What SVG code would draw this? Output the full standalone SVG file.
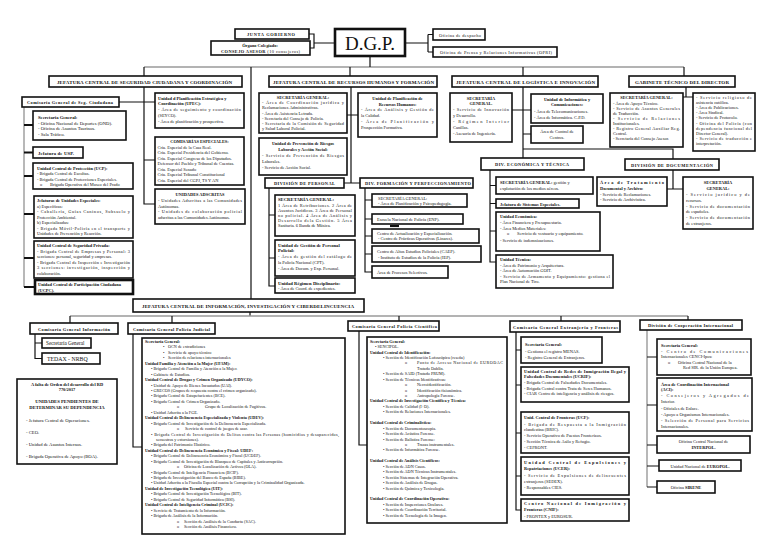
<svg xmlns="http://www.w3.org/2000/svg" width="768" height="543" viewBox="0 0 768 543">
<style>
text{font-family:"Liberation Serif","Times New Roman",serif;font-size:4.4px;fill:#111}
.b{font-weight:bold}
.c{text-anchor:middle}
.s{font-size:4.2px}
.m{font-size:4.7px}
.h{font-weight:bold;font-size:5px}
rect.n{fill:#fff;stroke:#111;stroke-width:1.6}
rect.tk{fill:#fff;stroke:#111;stroke-width:2.6}
.ln{fill:none;stroke:#111;stroke-width:1.2}
.gr{fill:none;stroke:#9a9a9a;stroke-width:1.4}
</style>
<rect x="0" y="0" width="768" height="543" fill="#fff"/>
<g id="connectors">
<path class="gr" d="M144,67H684"/>
<path class="ln" d="M370,56V67 M144,67V76 M350,67V76 M523,67V76 M684,67V76 M251,67V299"/>
<path class="ln" d="M309,34H314V48H310 M314,43H335"/>
<path class="ln" d="M405,43H428 M428,34.5V52 M428,34.5H433 M428,52H433"/>
<path class="ln" d="M144,87V204H155 M119,102H155 M144,160H155"/>
<path class="gr" d="M24,107V287"/>
<path class="ln" style="stroke-width:1.8" d="M24,125H33 M24,152.5H33 M24,176H33 M24,214H34 M24,258H34 M24,287H35"/>
<path class="ln" d="M351,87V183 M347,115H358 M344,183H360"/>
<path class="ln" d="M269,188V286H275 M269,215H275 M269,258H275"/>
<path class="ln" d="M365,188V272H372 M365,200H372 M365,219H372 M365,236H372 M365,254H372"/>
<path class="ln" style="stroke-width:2.2" d="M390,226H399"/>
<path class="ln" d="M523,87V158 M512,110H531 M523,134H531 M523,149H673V159"/>
<path class="ln" d="M490,170V262H496 M490,185.5H496 M490,203.5H496 M490,231H496"/>
<path class="ln" d="M673,170V189 M667,189H683"/>
<path class="ln" d="M686,87V97 M683,97H693"/>
<path class="ln" d="M250,312V316"/>
<path class="gr" d="M70,316H688"/>
<path class="ln" d="M70,316V323 M172,316V323 M399,316V321 M561,316V321 M688,316V320"/>
<path class="ln" d="M35,334V358.5H42 M35,343H42"/>
<path class="ln" d="M133,334V447H142"/>
<path class="ln" d="M359,331V445H367"/>
<path class="ln" d="M516,332V510H521 M516,350H521 M516,385H521 M516,433H521 M516,476H521"/>
<path class="gr" d="M647,330V487"/>
<path class="ln" d="M647,357H657 M647,405H657 M647,445H657 M647,466H659 M647,487H657"/>
</g>

<g id="junta"><rect class="n" x="235" y="29" width="74" height="10"/><text class="b" x="247" y="36" textLength="48">JUNTA GOBIERNO</text></g>
<g id="consejo"><rect class="n" x="211" y="41" width="99" height="14"/><text class="b c" x="260" y="47">Órgano Colegiado:</text><text x="221" y="53" textLength="79"><tspan class="b">CONSEJO ASESOR </tspan>(10 consejeros)</text></g>
<g id="dgp"><rect class="tk" x="335" y="29" width="70" height="27"/><text class="c" x="370" y="49.5" style="font-size:19px">D.G.P.</text></g>
<g id="despacho"><rect class="n" x="433" y="29" width="52" height="11"/><text x="439" y="36.5" textLength="42">Oficina de despacho</text></g>
<g id="opri"><rect class="n" x="433" y="47" width="124" height="10"/><text x="440" y="54" textLength="112">Oficina de Prensa y Relaciones Informativas (OPRI)</text></g>

<g id="jef-seg"><rect class="n" x="49" y="76" width="193" height="11"/><text class="h" x="57" y="83.5" textLength="175">JEFATURA CENTRAL DE SEGURIDAD CIUDADANA Y COORDINACIÓN</text></g>
<g id="com-seg"><rect class="n" x="22" y="97" width="97" height="10"/><text class="b" x="27" y="104" textLength="86">Comisaría General de Seg. Ciudadana</text></g>
<g id="sec-seg"><rect class="n" x="33" y="111" width="93" height="29"/>
<text class="b m" x="38" y="119">Secretaría General:</text>
<text class="m" x="38" y="124.5">- Oficina Nacional de Deportes (OND).</text>
<text class="m" x="38" y="130">- Oficina de Asuntos Taurinos.</text>
<text class="m" x="38" y="135.5">- Sala Tráfico.</text></g>
<g id="usp"><rect class="n" x="33" y="147" width="50" height="11"/><text class="b m" x="38" y="154.5" textLength="36">Jefatura de USP.</text></g>
<g id="ucp"><rect class="n" x="33" y="163" width="100" height="26"/>
<text class="b" x="37" y="169.5">Unidad Central de Protección (UCP):</text>
<text x="37" y="175">- Brigada Central de Escoltas.</text>
<text x="37" y="180.5">- Brigada Central de Protecciones Especiales.</text>
<text x="40" y="186">o</text><text x="50" y="186">Brigada Operativa del Museo del Prado</text></g>
<g id="jue"><rect class="n" x="34" y="196" width="99" height="42"/>
<text class="b" x="37" y="202">Jefaturas de Unidades Especiales:</text>
<text x="37" y="207.5">a) Específicas:</text>
<text x="37" y="213" textLength="93">- Caballería, Guías Caninos, Subsuelo y</text>
<text x="37" y="218.5">Protección Ambiental.</text>
<text x="37" y="224">b) Especializadas:</text>
<text x="37" y="229.5" textLength="93">- Brigada Móvil-Policía en el transporte y</text>
<text x="37" y="235">Unidades de Prevención y Reacción.</text></g>
<g id="usprivada"><rect class="n" x="34" y="241" width="99" height="37"/>
<text class="b" x="37" y="247">Unidad Central de Seguridad Privada:</text>
<text x="37" y="252.5" textLength="93">- Brigada Central de Empresas y Personal: 3</text>
<text x="37" y="258">secciones: personal, seguridad y empresas.</text>
<text x="37" y="263.5" textLength="93">- Brigada Central de Inspección e Investigación</text>
<text x="37" y="269" textLength="93">3 secciones: investigación, inspección y</text>
<text x="37" y="274.5">colaboración.</text></g>
<g id="ucpc"><rect class="tk" x="35" y="280" width="98" height="14"/>
<text class="b" x="38" y="286">Unidad Central de Participación Ciudadana</text>
<text class="b" x="38" y="291.5">(UCPC).</text></g>
<g id="upec"><rect class="n" x="155" y="93" width="89" height="35"/>
<text class="b" x="158" y="99.5">Unidad d Planificación Estratégica y</text>
<text class="b" x="158" y="105">Coordinación (UPEC):</text>
<text x="158" y="111" textLength="83">- Área de seguimiento y coordinación</text>
<text x="158" y="116.5">(SEYCO).</text>
<text x="158" y="123">- Área de planificación y prospectiva.</text></g>
<g id="cesp"><rect class="n" x="155" y="137" width="89" height="48"/>
<text class="b c" x="199.5" y="143">COMISARÍAS ESPECIALES:</text>
<text x="157.5" y="148.5">Cria. Especial de la Casa Real.</text>
<text x="157.5" y="154">Cria. Especial Presidencia del Gobierno.</text>
<text x="157.5" y="159.5">Cria. Especial Congreso de los Diputados.</text>
<text x="157.5" y="165">Defensor del Pueblo y Tribunal de Cuentas.</text>
<text x="157.5" y="170.5">Cria. Especial Senado</text>
<text x="157.5" y="176">Cria. Especial Tribunal Constitucional</text>
<text x="157.5" y="181.5">Cria. Especial del CGPJ, TS Y AN</text></g>
<g id="uads"><rect class="n" x="155" y="189" width="90" height="35"/>
<text class="b c" x="200" y="196">UNIDADES ADSCRITAS</text>
<text x="158" y="202" textLength="84">- Unidades Adscritas a las Comunidades</text>
<text x="158" y="207.5">Autónomas.</text>
<text x="158" y="213" textLength="84">- Unidades de colaboración policial</text>
<text x="158" y="218.5">adscritas a las Comunidades Autónomas.</text></g>

<g id="jef-rh"><rect class="n" x="269" y="76" width="168" height="11"/><text class="h" x="273" y="83.5" textLength="161">JEFATURA CENTRAL DE RECURSOS HUMANOS Y FORMACIÓN</text></g>
<g id="sec-rh"><rect class="n" x="259" y="93" width="88" height="40"/>
<text class="b c" x="303" y="99">SECRETARÍA GENERAL:</text>
<text x="262" y="104.2" textLength="82">- Área de Coordinación jurídica y</text>
<text x="262" y="109.4">Reclamaciones Administrativas.</text>
<text x="262" y="114.6">- Área de Asistencia Letrada.</text>
<text x="262" y="119.8">- Secretaría del Consejo de Policía.</text>
<text x="262" y="125" textLength="82">- Secretaría de la Comisión de Seguridad</text>
<text x="262" y="130.2">y Salud Laboral Policial.</text></g>
<g id="uprh"><rect class="n" x="358" y="93" width="79" height="44"/>
<text class="b c" x="397.5" y="100">Unidad de Planificación de</text>
<text class="b c" x="397.5" y="105.5">Recursos Humanos:</text>
<text x="361" y="111" textLength="73">- Área de Análisis y Gestión de</text>
<text x="361" y="116.5">la Calidad.</text>
<text x="361" y="123" textLength="73">- Área de Planificación y</text>
<text x="361" y="128.5">Prospección Formativa.</text></g>
<g id="prl"><rect class="n" x="259" y="138" width="88" height="37"/>
<text class="b c" x="303" y="145">Unidad de Prevención de Riesgos</text>
<text class="b c" x="303" y="150.5">Laborales y Acción Social:</text>
<text x="262" y="157" textLength="82">- Servicio de Prevención de Riesgos</text>
<text x="262" y="162.5">Laborales.</text>
<text x="262" y="169">- Servicio de Acción Social.</text></g>
<g id="div-per"><rect class="n" x="265" y="178" width="79" height="10"/><text class="b" x="274" y="185" textLength="61">DIVISIÓN DE PERSONAL</text></g>
<g id="div-for"><rect class="n" x="360" y="178" width="113" height="10"/><text class="b" x="365" y="185" textLength="106">DIV. FORMACIÓN Y PERFECCIONAMIENTO</text></g>
<g id="sec-per"><rect class="n" x="275" y="195" width="80" height="41"/>
<text class="b m" x="278" y="201">SECRETARÍA GENERAL:</text>
<text x="278" y="206.5" textLength="74">1 Área de Retribuciones. 2 Área de</text>
<text x="278" y="211.7" textLength="74">Asuntos Jurídicos. 3 Área de Personal</text>
<text x="278" y="216.9" textLength="74">no policial. 4 Área de Análisis y</text>
<text x="278" y="222.1" textLength="74">Desarrollo dela Gestión. 5 Área</text>
<text x="278" y="227.3">Sanitaria. 6 Banda de Música.</text></g>
<g id="ugp"><rect class="n" x="275" y="240" width="80" height="36"/>
<text class="b m" x="278" y="246.5">Unidad de Gestión de Personal</text>
<text class="b m" x="278" y="252">Policial:</text>
<text x="278" y="258" textLength="74">- Área de gestión del catálogo de</text>
<text x="278" y="263.5">la Policía Nacional (CPT).</text>
<text x="278" y="269.5">- Área de Docum. y Exp. Personal.</text></g>
<g id="urd"><rect class="n" x="275" y="278" width="80" height="15"/>
<text class="b m" x="278" y="284.5">Unidad Régimen Disciplinario:</text>
<text x="278" y="290">- Área de Coord. de expedientes.</text></g>
<g id="sec-for"><rect class="n" x="372" y="194" width="95" height="13"/>
<text x="378" y="199.5">SECRETARÍA GENERAL:</text>
<text x="378" y="205">- Área de Planificación y Psicopedagogía.</text></g>
<g id="enp"><rect class="n" x="372" y="214" width="91" height="10"/><text x="377" y="221">Escuela Nacional de Policía (ENP).</text></g>
<g id="cae"><rect class="n" x="372" y="229" width="107" height="14"/>
<text x="377" y="234.5">Centro de Actualización y Especialización.</text>
<text x="378" y="240">- Centro de Prácticas Operativas (Linares).</text></g>
<g id="caep"><rect class="n" x="372" y="246" width="109" height="16"/>
<text x="377" y="252.5">Centro de Altos Estudios Policiales (CAEP).</text>
<text x="378" y="258.5">- Instituto de Estudios de la Policía (IEP).</text></g>
<g id="aps"><rect class="n" x="372" y="266" width="76" height="12"/><text x="377" y="273.5">Área de Procesos Selectivos.</text></g>

<g id="jef-log"><rect class="n" x="452" y="76" width="146" height="11"/><text class="h" x="456" y="83.5" textLength="139">JEFATURA CENTRAL DE LOGÍSTICA E INNOVACIÓN</text></g>
<g id="sec-log"><rect class="n" x="450" y="93" width="62" height="49"/>
<text class="b c" x="481" y="99.5">SECRETARÍA</text>
<text class="b c" x="481" y="105">GENERAL.</text>
<text x="453" y="111" textLength="56">- Servicio de Innovación</text>
<text x="453" y="116.5">y Desarrollo.</text>
<text x="453" y="123" textLength="56">- Régimen Interior</text>
<text x="453" y="128.5">Canillas.</text>
<text x="453" y="135">- Asesoría de Ingeniería.</text></g>
<g id="uic"><rect class="n" x="531" y="94" width="72" height="29"/>
<text class="b c" x="567" y="100.5">Unidad de Informática y</text>
<text class="b c" x="567" y="106">Comunicaciones:</text>
<text x="534" y="112.5">- Área de Telecomunicaciones.</text>
<text x="534" y="118.5">- Área de Informática. C.P.D.</text></g>
<g id="acc"><rect class="n" x="531" y="126" width="52" height="17"/>
<text class="c" x="557" y="132.5">Área de Control de</text>
<text class="c" x="557" y="138.5">Centros.</text></g>
<g id="div-ec"><rect class="n" x="481" y="158" width="103" height="12"/><text class="b" x="495" y="166" textLength="74">DIV. ECONÓMICA Y TÉCNICA</text></g>
<g id="sg-aer"><rect class="n" x="496" y="177" width="97" height="17"/>
<text x="500" y="184"><tspan class="b">SECRETARÍA GENERAL:</tspan> gestión y</text>
<text x="500" y="190">explotación de los medios aéreos.</text></g>
<g id="jse"><rect class="n" x="496" y="199" width="83" height="9"/><text class="b" x="500" y="205.5">Jefatura de Sistemas Especiales.</text></g>
<g id="uec"><rect class="n" x="496" y="212" width="104" height="39"/>
<text class="b" x="500" y="218">Unidad Económica:</text>
<text x="500" y="224">- Área Financiera y Presupuestaria.</text>
<text x="500" y="229.5">- Área Medios Materiales:</text>
<text x="507" y="235">o</text><text x="517" y="235">Servicio de vestuario y equipamiento.</text>
<text x="500" y="242">- Servicio de indemnizaciones.</text></g>
<g id="utec"><rect class="n" x="496" y="255" width="117" height="33"/>
<text class="b" x="500" y="261">Unidad Técnica:</text>
<text x="500" y="266.5">- Área de Patrimonio y Arquitectura.</text>
<text x="500" y="272">- Área de Automoción GOIT.</text>
<text x="500" y="277.5" textLength="110">- Servicio de Armamento y Equipamiento: gestiona el</text>
<text x="500" y="283">Plan Nacional de Tiro.</text></g>
<g id="div-doc"><rect class="n" x="625" y="159" width="94" height="11"/><text class="b" x="631" y="166.5" textLength="82">DIVISIÓN DE DOCUMENTACIÓN</text></g>
<g id="atd"><rect class="n" x="597" y="177" width="70" height="29"/>
<text class="b" x="600" y="184" textLength="64">Área de Tratamiento</text>
<text class="b" x="600" y="189.5">Documental y Archivo:</text>
<text x="600" y="195.5">- Servicio de Reclamaciones.</text>
<text x="600" y="201">- Servicio de Archivística.</text></g>
<g id="sg-doc"><rect class="n" x="683" y="177" width="70" height="52"/>
<text class="b c" x="718" y="184">SECRETARÍA</text>
<text class="b c" x="718" y="189.5">GENERAL:</text>
<text x="686" y="196" textLength="64">- Servicio jurídico y de</text>
<text x="686" y="201.5">recursos.</text>
<text x="686" y="207.5" textLength="64">- Servicio de documentación</text>
<text x="686" y="213">de españoles.</text>
<text x="686" y="219" textLength="64">- Servicio de documentación</text>
<text x="686" y="224.5">de extranjeros.</text></g>
<g id="gab"><rect class="n" x="629" y="76" width="106" height="11"/><text class="h" x="635" y="83.5" textLength="94">GABINETE TÉCNICO DEL DIRECTOR</text></g>
<g id="sg-gab"><rect class="n" x="610" y="93" width="73" height="54"/>
<text class="b c" x="646.5" y="99">SECRETARÍA GENERAL:</text>
<text x="613" y="104.5">- Área de Apoyo Técnico.</text>
<text x="613" y="109.5" textLength="67">- Servicio de Asuntos Generales</text>
<text x="613" y="114.5">de Traducción.</text>
<text x="613" y="119.5" textLength="67">- Servicio de Relaciones</text>
<text x="613" y="124.5">Institucionales.</text>
<text x="613" y="130" textLength="67">- Registro General Auxiliar Reg.</text>
<text x="613" y="135">Central.</text>
<text x="613" y="140">- Secretaría del Consejo Asesor.</text></g>
<g id="gab-r"><rect class="n" x="693" y="93" width="62" height="58"/>
<text x="696" y="99" textLength="56">- Servicio religioso de</text>
<text x="696" y="104">asistencia católica.</text>
<text x="696" y="109">- Área de Publicaciones.</text>
<text x="696" y="114">- Área Sindical.</text>
<text x="696" y="119">- Servicio de Protocolo.</text>
<text x="696" y="125" textLength="56">- Oficina del Policía (con</text>
<text x="696" y="130" textLength="56">dependencia funcional del</text>
<text x="696" y="135">Director General).</text>
<text x="696" y="140" textLength="56">- Servicio de traducción e</text>
<text x="696" y="145">interpretación.</text></g>

<g id="jef-info"><rect class="n" x="133" y="299" width="231" height="13"/><text class="h" x="142" y="307.5" textLength="212">JEFATURA CENTRAL DE INFORMACIÓN, INVESTIGACIÓN Y CIBERDELINCUENCIA</text></g>
<g id="cg-inf"><rect class="n" x="30" y="323" width="88" height="11"/><text class="b" x="38" y="330.5" textLength="72">Comisaría General Información</text></g>
<g id="sg-inf"><rect class="n" x="42" y="338" width="49" height="10"/><text x="46" y="345" style="font-size:5.2px">Secretaría General</text></g>
<g id="tedax"><rect class="n" x="42" y="353" width="58" height="11"/><text x="47" y="361" style="font-size:5.8px">TEDAX - NRBQ</text></g>
<g id="falta"><rect class="n" x="17" y="379" width="100" height="85"/>
<text class="b c" x="67" y="386">A falta de Orden del desarrollo del RD</text>
<text class="b c" x="67" y="390.5">770/2017</text>
<text class="b c m" x="67" y="402.5">UNIDADES PENDIENTES DE</text>
<text class="b c m" x="67" y="408.5">DETERMINAR SU DEPENDENCIA</text>
<text class="m" x="26" y="421.5">- Jefatura Central de Operaciones.</text>
<text class="m" x="26" y="433.5">- CEO.</text>
<text class="m" x="26" y="445.5">- Unidad de Asuntos Internos.</text>
<text class="m" x="26" y="457.5">- Brigada Operativa de Apoyo (BOA).</text></g>
<g id="cg-pj"><rect class="n" x="128" y="323" width="87" height="11"/><text class="b" x="133" y="330.5" textLength="77">Comisaría General Policía Judicial</text></g>
<g id="pj"><rect class="n" x="142" y="338" width="203" height="196"/>
<text class="b s" x="145" y="343">Secretaría General:</text>
<text class="s" x="163" y="348.4">•</text><text class="s" x="168" y="348.4">OCN de extradiciones</text>
<text class="s" x="163" y="353.9">•</text><text class="s" x="168" y="353.9">Servicio de apoyo técnico</text>
<text class="s" x="163" y="359.3">•</text><text class="s" x="168" y="359.3">Sección de relaciones internacionales</text>
<text class="b s" x="145" y="364.8">Unidad Familia y Atención a la Mujer (UFAM):</text>
<text class="s" x="151" y="370.2">• Brigada Central de Familia y Atención a la Mujer.</text>
<text class="s" x="151" y="375.6">• Gabinete de Estudios.</text>
<text class="b s" x="145" y="381.1">Unidad Central de Drogas y Crimen Organizado (UDYCO):</text>
<text class="s" x="151" y="386.5">• Unidad de Apoyo de Bienes Incautados (UAI).</text>
<text class="s" x="151" y="392">• GRECOS (Grupos de respuesta contra el crimen organizado).</text>
<text class="s" x="151" y="397.4">• Brigada Central de Estupefacientes (BCE).</text>
<text class="s" x="151" y="402.8">• Brigada Central de Crimen Organizado.</text>
<text class="s" x="177" y="408.3">o</text><text class="s" x="205" y="408.3">Grupo de Localización de Fugitivos.</text>
<text class="s" x="151" y="413.7">• Unidad Adscrita a la FGE.</text>
<text class="b s" x="145" y="419.2">Unidad Central de Delincuencia Especializada y Violenta (UDEV):</text>
<text class="s" x="151" y="424.6">• Brigada Central de Investigación de la Delincuencia Especializada.</text>
<text class="s" x="177" y="430">o</text><text class="s" x="185" y="430">Servicio de control de juegos de azar.</text>
<text class="s" x="151" y="435.5" textLength="188">• Brigada Central de Investigación de Delitos contra las Personas (homicidios y desaparecidos,</text>
<text class="s" x="156" y="440.9">secuestros y extorsiones).</text>
<text class="s" x="151" y="446.4">• Brigada del Patrimonio Histórico.</text>
<text class="b s" x="145" y="451.8">Unidad Central de Delincuencia Económica y Fiscal: UDEF:</text>
<text class="s" x="151" y="457.2">• Brigada Central de Delincuencia Económica y Fiscal (UCDEF).</text>
<text class="s" x="151" y="462.7">• Brigada Central de Investigación de Blanqueo de Capitales y Anticorrupción.</text>
<text class="s" x="177" y="468.1">o</text><text class="s" x="184" y="468.1">Oficina de Localización de Activos (OLA).</text>
<text class="s" x="151" y="473.6">• Brigada Central de Inteligencia Financiera (BCIF).</text>
<text class="s" x="151" y="479">• Brigada de Investigación del Banco de España (BIBE).</text>
<text class="s" x="151" y="484.4">• Unidad Adscrita a la Fiscalía Especial contra la Corrupción y la Criminalidad Organizada.</text>
<text class="b s" x="145" y="489.9">Unidad de Investigación Tecnológica (UIT):</text>
<text class="s" x="151" y="495.3">• Brigada Central de Investigación Tecnológica (BIT).</text>
<text class="s" x="151" y="500.8">• Brigada Central de Seguridad Informática (BSI).</text>
<text class="b s" x="145" y="506.2">Unidad Central de Inteligencia Criminal (UCIC):</text>
<text class="s" x="151" y="511.6">• Servicio de Tratamiento de la Información.</text>
<text class="s" x="151" y="517.1">• Brigada de Análisis de la Información.</text>
<text class="s" x="177" y="522.5">o</text><text class="s" x="184" y="522.5">Sección de Análisis de la Conducta (SAC).</text>
<text class="s" x="177" y="528">o</text><text class="s" x="184" y="528">Sección de Análisis Financiero.</text>
</g>
<g id="cg-pc"><rect class="n" x="348" y="321" width="91" height="10"/><text class="b" x="352" y="328" textLength="85">Comisaría General Policía Científica</text></g>
<g id="pc"><rect class="n" x="367" y="337" width="140" height="186"/>
<text class="b s" x="370" y="342.6">Secretaría General:</text>
<text class="s" x="375" y="348">• SENCIPOL.</text>
<text class="b s" x="370" y="353.5">Unidad Central de Identificación:</text>
<text class="s" x="383" y="358.9">• Sección de Identificación Lofoscópica (reseña)</text>
<text class="s" x="405" y="364.4">o</text><text class="s" x="417" y="364.4" textLength="86">Punto de Acceso Nacional de EURODAC</text>
<text class="s" x="417" y="369.8">Tratado Dublín.</text>
<text class="s" x="383" y="375.2">• Sección de SAID (Tratado PRUM).</text>
<text class="s" x="383" y="380.7">• Sección de Técnicas Identificativas:</text>
<text class="s" x="405" y="386.1">o</text><text class="s" x="417" y="386.1">Necroidentificación.</text>
<text class="s" x="405" y="391.6">o</text><text class="s" x="417" y="391.6">Identificación fisionómica.</text>
<text class="s" x="405" y="397">o</text><text class="s" x="417" y="397">Antropología Forense.</text>
<text class="b s" x="370" y="402.4">Unidad Central de Investigación Científica y Técnica:</text>
<text class="s" x="383" y="407.9">• Sección de Calidad (I+D).</text>
<text class="s" x="383" y="413.3">• Sección de Relaciones Internacionales.</text>
<text class="b s" x="370" y="424.2">Unidad Central de Criminalística:</text>
<text class="s" x="383" y="429.6">• Sección de Documentoscopia.</text>
<text class="s" x="383" y="435.1">• Sección de Acústica Forense.</text>
<text class="s" x="383" y="440.5">• Sección de Balística Forense:</text>
<text class="s" x="405" y="445.9">o</text><text class="s" x="417" y="445.9">Trazas instrumentales.</text>
<text class="s" x="383" y="451.4">• Sección de Informática Forense.</text>
<text class="b s" x="370" y="462.3">Unidad Central de Análisis Científicos:</text>
<text class="s" x="383" y="467.7">• Sección de ADN Casos.</text>
<text class="s" x="383" y="473.1">• Sección de ADN Técnicas Instrumentales.</text>
<text class="s" x="383" y="478.6">• Sección Sistemas de Integración Operativa.</text>
<text class="s" x="383" y="484">• Sección de Análisis de Drogas.</text>
<text class="s" x="383" y="489.5">• Sección de Química y Toxicología.</text>
<text class="b s" x="370" y="500.4">Unidad Central de Coordinación Operativa:</text>
<text class="s" x="383" y="505.8">• Sección de Inspecciones Oculares.</text>
<text class="s" x="383" y="511.2">• Sección de Coordinación Territorial.</text>
<text class="s" x="383" y="516.7">• Sección de Tecnología de la Imagen.</text></g>
<g id="cg-ef"><rect class="n" x="510" y="321" width="110" height="11"/><text class="b" x="513" y="328.5" textLength="105">Comisaría General Extranjería y Fronteras</text></g>
<g id="sg-ef"><rect class="n" x="521" y="337" width="81" height="26"/>
<text class="b" x="525" y="346">Secretaría General:</text>
<text x="525" y="352.5">- Gestiona el registro MENAS.</text>
<text x="525" y="359">- Registro General de Extranjeros.</text></g>
<g id="ucrif"><rect class="n" x="521" y="367" width="108" height="35"/>
<text class="b" x="524" y="372.5" textLength="102">Unidad Central de Redes de Inmigración Ilegal y</text>
<text class="b" x="524" y="378">Falsedades Documentales (UCRIF):</text>
<text x="524" y="384">- Brigada Central de Falsedades Documentales.</text>
<text x="524" y="389.5">- Brigada Central contra Trata de Seres Humanos.</text>
<text x="524" y="395">- CIAR Centro de inteligencia y análisis de riesgos.</text></g>
<g id="ucf"><rect class="n" x="521" y="412" width="108" height="41"/>
<text class="b" x="524" y="419">Unid. Central de Fronteras (UCF):</text>
<text x="524" y="425.5" textLength="102">- Brigada de Respuesta a la Inmigración</text>
<text x="524" y="431">clandestina (BRIC).</text>
<text x="524" y="437">- Servicio Operativo de Puestos Fronterizos.</text>
<text x="524" y="443">- Sección Técnica de Asilo y Refugio.</text>
<text x="524" y="449">- CEFRONT.</text></g>
<g id="ucer"><rect class="n" x="521" y="457" width="108" height="38"/>
<text class="b" x="524" y="464" textLength="102">Unidad Central de Expulsiones y</text>
<text class="b" x="524" y="470">Repatriaciones (UCER):</text>
<text x="524" y="477" textLength="102">- Servicio de Expulsiones de delincuentes</text>
<text x="524" y="482.5">extranjeros (SEDEX).</text>
<text x="524" y="489">- Responsables CIES.</text></g>
<g id="cnif"><rect class="n" x="521" y="499" width="108" height="22"/>
<text class="b" x="524" y="505" textLength="102">Centro Nacional de Inmigración y</text>
<text class="b" x="524" y="511">Fronteras (CNIF):</text>
<text x="524" y="517.5">- FRONTEX y EUROSUR.</text></g>
<g id="dci"><rect class="n" x="640" y="320" width="102" height="10"/><text class="b" x="648" y="327" textLength="85">División de Cooperación Internacional</text></g>
<g id="sg-ci"><rect class="n" x="657" y="339" width="94" height="36"/>
<text class="b" x="661" y="346.5">Secretaría General:</text>
<text x="661" y="352.5" textLength="87">- Centro de Comunicaciones</text>
<text x="661" y="358">Internacionales CENCI-Ipos:</text>
<text x="668" y="363.5">o</text><text x="678" y="363.5">Oficina Central Nacional de la</text>
<text x="683" y="369">Red SIR. de la Unión Europea.</text></g>
<g id="aci"><rect class="n" x="657" y="378" width="95" height="53"/>
<text class="b" x="661" y="386">Área de Coordinación Internacional</text>
<text class="b" x="661" y="391">(ACI):</text>
<text x="661" y="397" textLength="88">- Consejeros y Agregados de</text>
<text x="661" y="403">Interior.</text>
<text x="661" y="410">- Oficiales de Enlace.</text>
<text x="661" y="416">- Apoyo a Organismos Internacionales.</text>
<text x="661" y="422" textLength="88">- Selección de Personal para Servicios</text>
<text x="661" y="428">Internacionales.</text></g>
<g id="interpol"><rect class="n" x="657" y="436" width="93" height="17"/>
<text class="c" x="703.5" y="442.5">Oficina Central Nacional de</text>
<text class="b c" x="703.5" y="449">INTERPOL.</text></g>
<g id="europol"><rect class="n" x="659" y="460" width="82" height="11"/><text class="c" x="700" y="467.5">Unidad Nacional de <tspan class="b">EUROPOL.</tspan></text></g>
<g id="sirene"><rect class="n" x="657" y="481" width="58" height="12"/><text class="c" x="686" y="489">Oficina <tspan class="b">SIRENE</tspan></text></g>
</svg>
